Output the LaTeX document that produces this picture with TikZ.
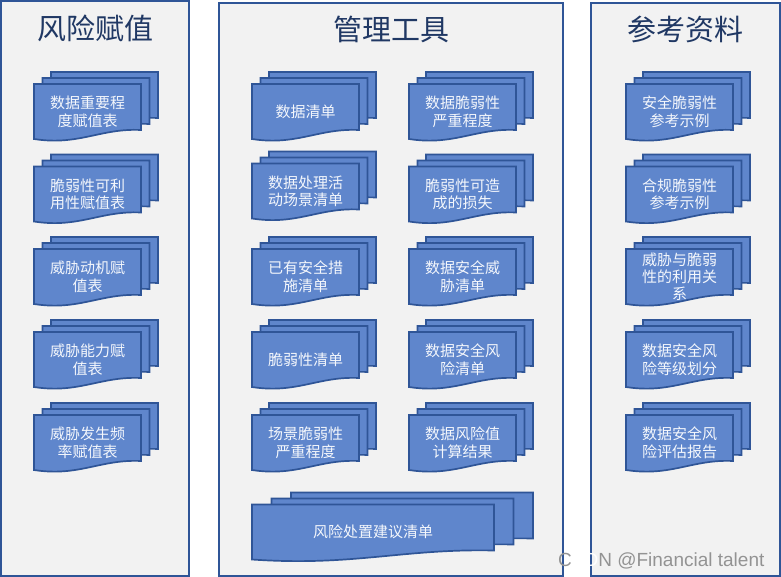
\documentclass[tikz,border=0pt]{standalone}
\usepackage{fontspec}
\setmainfont{Noto Sans CJK SC}
\newfontfamily\latinfont{Liberation Sans}
\usepackage{xcolor}
\usetikzlibrary{positioning}
\definecolor{panelbg}{HTML}{F2F2F2}
\definecolor{panelline}{HTML}{2F5597}
\definecolor{docfill}{HTML}{5F86CC}
\definecolor{docline}{HTML}{2F5597}
\definecolor{titletext}{HTML}{203864}
\definecolor{labtext}{HTML}{F4F7FC}
\tikzset{
  panel/.style={draw=panelline, fill=panelbg, line width=2pt},
  sheet/.style={draw=docline, fill=docfill, line width=1.7pt, line join=miter},
  title/.style={text=titletext, font=\fontsize{29}{32}\selectfont, inner sep=0pt},
  lab/.style={text=labtext, font=\fontsize{15}{17.2}\selectfont, align=center, inner sep=0pt},
  wmark/.style={text=gray!85, font=\latinfont\fontsize{19}{22}\selectfont, inner sep=0pt, anchor=west},
}
% #1 name, #2 left, #3 top, #4 width, #5 step in x, #6 text
\newcommand{\docstack}[6]{
  \foreach \k in {2,1,0} {
    \begin{scope}[shift={(#2+\k*#5,#3-\k*6)}]
      \draw[sheet] (0,0) -- (#4,0) -- (#4,46)
        .. controls (0.62*#4,44) and (0.42*#4,62) .. (0,55) -- cycle;
    \end{scope}
  }
  \node[lab] (#1) at (#2+0.5*#4,#3+27.7) {#6};
}

\begin{document}
\begin{tikzpicture}[x=1pt,y=-1pt]
  \useasboundingbox (0,0) rectangle (781,577);

  % panels
  \draw[panel] (0.5,1.5) rectangle (189,576);
  \draw[panel] (219,3) rectangle (563,575.5);
  \draw[panel] (591,3.5) rectangle (779.5,575.5);

  \node[title] (titleA) at (95,28) {风险赋值};
  \node[title] (titleB) at (391,29) {管理工具};
  \node[title] (titleC) at (685.5,29) {参考资料};

  % left column
  \docstack{riskA}{34}{84}{107}{8.5}{数据重要程\\度赋值表}
  \docstack{riskB}{34}{166.5}{107}{8.5}{脆弱性可利\\用性赋值表}
  \docstack{riskC}{34}{249}{107}{8.5}{威胁动机赋\\值表}
  \docstack{riskD}{34}{332}{107}{8.5}{威胁能力赋\\值表}
  \docstack{riskE}{34}{415}{107}{8.5}{威胁发生频\\率赋值表}

  % middle column
  \docstack{toolA}{252}{84}{107}{8.5}{数据清单}
  \docstack{toolB}{252}{163.5}{107}{8.5}{数据处理活\\动场景清单}
  \docstack{toolC}{252}{249}{107}{8.5}{已有安全措\\施清单}
  \docstack{toolD}{252}{332}{107}{8.5}{脆弱性清单}
  \docstack{toolE}{252}{415}{107}{8.5}{场景脆弱性\\严重程度}
  \docstack{toolF}{409}{84}{107}{8.5}{数据脆弱性\\严重程度}
  \docstack{toolG}{409}{166.5}{107}{8.5}{脆弱性可造\\成的损失}
  \docstack{toolH}{409}{249}{107}{8.5}{数据安全威\\胁清单}
  \docstack{toolI}{409}{332}{107}{8.5}{数据安全风\\险清单}
  \docstack{toolJ}{409}{415}{107}{8.5}{数据风险值\\计算结果}
  \docstack{toolK}{252}{504.5}{242}{19.5}{风险处置建议清单}

  % right column
  \docstack{refA}{626}{84}{107}{8.5}{安全脆弱性\\参考示例}
  \docstack{refB}{626}{166.5}{107}{8.5}{合规脆弱性\\参考示例}
  \docstack{refC}{626}{249}{107}{8.5}{威胁与脆弱\\性的利用关\\系}
  \docstack{refD}{626}{332}{107}{8.5}{数据安全风\\险等级划分}
  \docstack{refE}{626}{415}{107}{8.5}{数据安全风\\险评估报告}

  \node[wmark] (wm) at (558,561) {C\textcolor{white}{SD}N @Financial talent};
\end{tikzpicture}
\end{document}
